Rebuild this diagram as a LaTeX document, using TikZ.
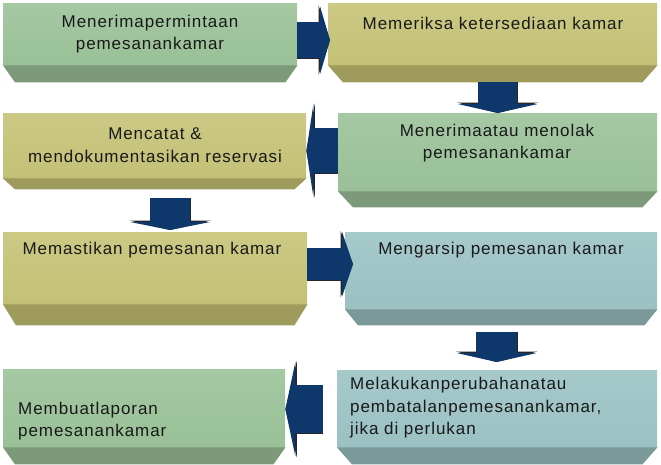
\documentclass[tikz,border=0pt]{standalone}
\usepackage{fontspec}
\newfontfamily\boxfont[LetterSpace=5.5]{Liberation Sans}
\usetikzlibrary{arrows.meta, calc}

\definecolor{leaf}{RGB}{153,192,151}
\definecolor{leaftop}{RGB}{165,201,163}
\definecolor{leafedge}{RGB}{124,153,122}
\definecolor{straw}{RGB}{195,192,118}
\definecolor{strawtop}{RGB}{204,201,133}
\definecolor{strawedge}{RGB}{158,155,92}
\definecolor{mist}{RGB}{155,193,194}
\definecolor{misttop}{RGB}{166,201,202}
\definecolor{mistedge}{RGB}{124,153,154}
\definecolor{arrowblue}{RGB}{14,56,108}

\tikzset{
  panel/.style={rectangle, inner sep=0pt, anchor=north west},
  leafbox/.style={panel, top color=leaftop, bottom color=leaf},
  strawbox/.style={panel, top color=strawtop, bottom color=straw},
  mistbox/.style={panel, top color=misttop, bottom color=mist},
  txt/.style={font=\boxfont\fontsize{17}{22.5}\selectfont, text=black!90, inner sep=0pt},
  flow/.style n args={3}{draw=arrowblue, line width=#1, -{Triangle[length=#2, width=#3, line width=0pt]},
    preaction={draw=black!85, line width=#1+1.2pt, -{Triangle[length=#2+1.5pt, width=#3+2pt, line width=0pt]}}},
}

\begin{document}
\begin{tikzpicture}[x=1pt, y=-1pt]
    \useasboundingbox (0,0) rectangle (661,464);

    \node[leafbox, minimum width=294pt, minimum height=62pt] (b1) at (3,3) {};
    \node[strawbox, minimum width=329pt, minimum height=62pt] (b2) at (328,3) {};
    \node[strawbox, minimum width=303pt, minimum height=65pt] (b3) at (3,113) {};
    \node[leafbox, minimum width=319pt, minimum height=78pt] (b4) at (338,113) {};
    \node[strawbox, minimum width=304pt, minimum height=72pt] (b5) at (3,232) {};
    \node[mistbox, minimum width=312pt, minimum height=77pt] (b6) at (345,232) {};
    \node[leafbox, minimum width=282pt, minimum height=78pt] (b7) at (3,369) {};
    \node[mistbox, minimum width=320pt, minimum height=77pt] (b8) at (337,370) {};

    % bevelled bottom edges
    \foreach \b/\c/\h/\i in {b1/leafedge/17/12, b2/strawedge/17/15, b3/strawedge/11/12,
        b4/leafedge/16/15, b5/strawedge/21/13, b6/mistedge/16/13, b7/leafedge/17/12, b8/mistedge/17/15}
        \fill[\c] (\b.south west) -- (\b.south east) -- ++(-\i,\h) -- ($(\b.south west)+(\i,\h)$) -- cycle;

    \node[txt, align=center] (t1) at (150,34) {Menerimapermintaan\\pemesanankamar};
    \node[txt] (t2) at (493,23) {Memeriksa ketersediaan kamar};
    \node[txt, align=center] (t3) at (155,145) {Mencatat \&\\mendokumentasikan reservasi};
    \node[txt, align=center] (t4) at (497,143) {Menerimaatau menolak\\pemesanankamar};
    \node[txt] (t5) at (152,250) {Memastikan pemesanan kamar};
    \node[txt] (t6) at (501,250) {Mengarsip pemesanan kamar};
    \node[txt, align=left, anchor=west] (t7) at (18,421) {Membuatlaporan\\pemesanankamar};
    \node[txt, align=left, anchor=west] (t8) at (350,408) {Melakukanperubahanatau\\pembatalanpemesanankamar,\\jika di perlukan};

    \draw[flow={36pt}{10pt}{68pt}] ($(b1.east)+(0,6)$) -- ($(b2.west)+(2,6)$);
    \draw[flow={39pt}{9pt}{80pt}] ($(b2.south)+(5,17)$) -- (b4.north);
    \draw[flow={45pt}{7pt}{93pt}] ($(b4.west)+(0,-1.5)$) -- ($(b3.east)+(0,5)$);
    \draw[flow={40pt}{8pt}{80pt}] ($(b3.south)+(15.5,20)$) -- ($(b5.north)+(15,-2)$);
    \draw[flow={32pt}{11pt}{65pt}] ($(b5.east)+(0,-4)$) -- ($(b6.west)+(8,-6.5)$);
    \draw[flow={41pt}{9pt}{80pt}] ($(b6.south)+(-4.5,23)$) -- ($(b8.north)+(-0.5,-8)$);
    \draw[flow={48pt}{10pt}{95pt}] ($(b8.west)+(-14,0.5)$) -- ($(b7.east)+(0,1)$);
\end{tikzpicture}
\end{document}
